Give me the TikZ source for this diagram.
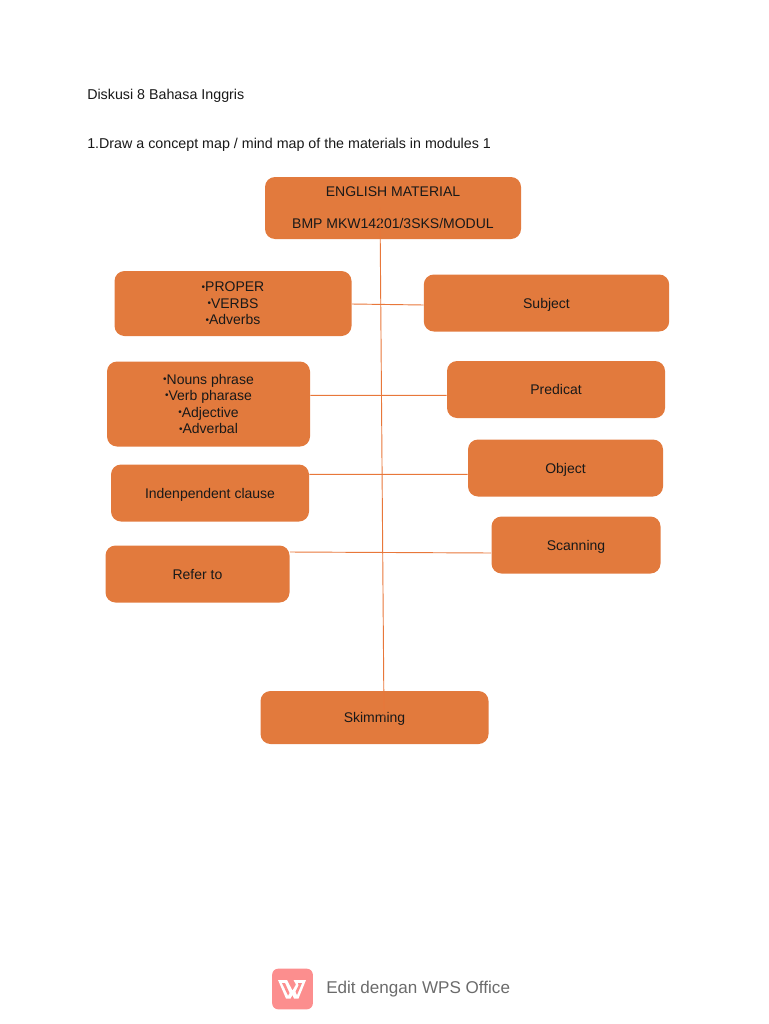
\documentclass[tikz,border=0pt]{standalone}
\usepackage{fontspec}
\setmainfont{Liberation Sans}
\newcommand{\bul}{{\fontsize{7.5}{7.5}\selectfont\raisebox{.35ex}{•}}}
\begin{document}
\begin{tikzpicture}[x=.75pt,y=-.75pt]
	\tikzstyle{box} = [rectangle,rounded corners=7.5pt,fill=boxfill,draw=none,align=center,inner sep=0pt,text depth=0pt,font=\fontsize{10.5}{12.4}\selectfont,text=black!90];
	\tikzstyle{plain} = [inner sep=0pt,font=\fontsize{10.7}{12}\selectfont,text=black!90,anchor=west];
	\tikzstyle{link} = [draw=linecolor,line width=.7pt];
	\definecolor{boxfill}{HTML}{E27A3D}
	\definecolor{linecolor}{HTML}{E8773A}
	\definecolor{logopink}{HTML}{FC8E8E}
	\useasboundingbox (0,0) rectangle (768,1024);
	\node[plain] (title) at (87,96) {Diskusi 8 Bahasa Inggris};
	\node[plain] (task) at (87,145) {1.Draw a concept map / mind map of the materials in modules 1};
	\node[box,minimum width=192pt,minimum height=46.5pt,text depth=-1.5pt] (top) at (393,208) {ENGLISH MATERIAL\\[11.5pt]BMP MKW14201/3SKS/MODUL};
	\node[box,minimum width=177.75pt,minimum height=48.75pt] (proper) at (233,303.5) {\bul PROPER\\\bul VERBS\\\bul Adverbs};
	\node[box,minimum width=184pt,minimum height=42.75pt] (subject) at (546.5,303) {Subject};
	\node[box,minimum width=152.25pt,minimum height=63.75pt] (nouns) at (208.5,404) {\bul Nouns phrase\\\bul Verb pharase\\\bul Adjective\\\bul Adverbal};
	\node[box,minimum width=163.5pt,minimum height=42.75pt] (predicat) at (556,389.5) {Predicat};
	\node[box,minimum width=148.5pt,minimum height=42.75pt] (clause) at (210,493) {Indenpendent clause};
	\node[box,minimum width=146.25pt,minimum height=42.75pt] (object) at (565.5,468) {Object};
	\node[box,minimum width=138pt,minimum height=42.75pt] (refer) at (197.5,574) {Refer to};
	\node[box,minimum width=126.75pt,minimum height=42.75pt] (scanning) at (576,545) {Scanning};
	\node[box,minimum width=171pt,minimum height=39.75pt] (skimming) at (374.5,717.5) {Skimming};
	\draw[link] ([shift={(-13,0)}]top.center) -- ([shift={(9.5,0)}]skimming.center);
	\draw[link] ([shift={(0,.5)}]proper.east) -- ([shift={(0,2)}]subject.west);
	\draw[link] ([shift={(0,-8.7)}]nouns.east) -- ([shift={(0,5.8)}]predicat.west);
	\draw[link] ([shift={(0,-18.7)}]clause.east) -- ([shift={(0,6.3)}]object.west);
	\draw[link] ([shift={(0,-22)}]refer.east) -- ([shift={(0,8)}]scanning.west);
	% logo and footer
	\node[rectangle,rounded corners=4.5pt,fill=logopink,minimum size=30.5pt,inner sep=0pt] (logo) at (292.5,989) {};
	\fill[white] (278,980) -- (287,980) -- (292.5,990.5) -- (296,984.5) -- (293.5,980) -- (306,980) -- (298.5,998.5) -- (294,998.5) -- (292.5,995) -- (290.5,998.5) -- (286,998.5) -- cycle;
	\fill[logopink] (282,983) -- (285,983) -- (289.5,993) -- (288,995.5) -- cycle;
	\fill[logopink] (298,983) -- (302,983) -- (297,995) -- (295.5,991.5) -- (298.5,985.5) -- cycle;
	\node[plain,font=\fontsize{12.8}{16}\selectfont,text=black!58] (footer) at (326,989.5) {Edit dengan WPS Office};
\end{tikzpicture}
\end{document}
